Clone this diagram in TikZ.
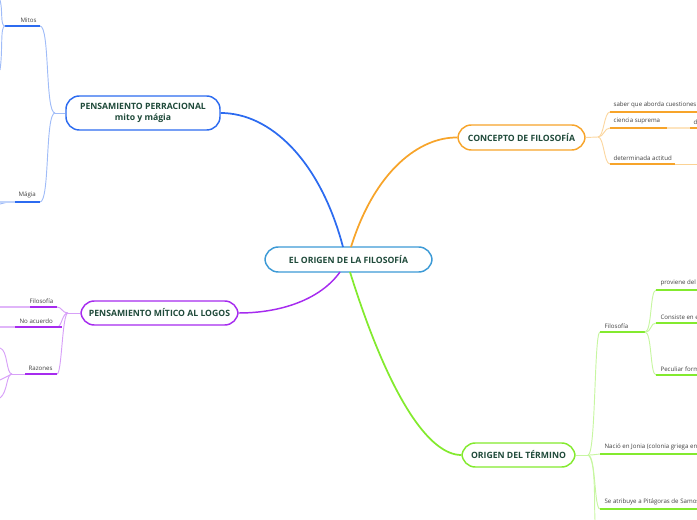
\documentclass[tikz,border=0pt]{standalone}
\usepackage{fontspec}
\setmainfont{Open Sans}
\definecolor{tgreen}{HTML}{1F4A3A}
\definecolor{cblue}{HTML}{2C6BF0}
\definecolor{corange}{HTML}{F7A42A}
\definecolor{cpurple}{HTML}{A62BEF}
\definecolor{cgreen}{HTML}{83EA2E}
\definecolor{ccenter}{HTML}{3C9AD6}
\begin{document}
\begin{tikzpicture}[x=0.75pt,y=-0.75pt,
 main/.style={draw=#1,line width=1.1pt,rounded corners=10pt,fill=white,font=\bfseries\fontsize{6.5}{8}\selectfont,text=tgreen,align=center,inner sep=0pt},
 lab/.style={font=\fontsize{4.6}{5.5}\selectfont,text=black!75,inner sep=1pt,anchor=south west,yshift=-1.5pt},
 br/.style={draw=#1!45,line width=0.7pt},
 ul/.style={draw=#1,line width=1.3pt}]
\useasboundingbox (0,0) rectangle (697,520);
% center
\node[main=ccenter,minimum width=167pt*0.75,minimum height=25pt*0.75] (c) at (348.5,259.5) {EL ORIGEN DE LA FILOSOFÍA};
\node[main=cblue,minimum width=154pt*0.75,minimum height=34pt*0.75] (b) at (143,113) {PENSAMIENTO PERRACIONAL\\mito y mágia};
\node[main=corange,minimum width=127pt*0.75,minimum height=25pt*0.75] (o) at (521.5,137.5) {CONCEPTO DE FILOSOFÍA};
\node[main=cpurple,minimum width=157pt*0.75,minimum height=24pt*0.75] (p) at (159.5,313) {PENSAMIENTO MÍTICO AL LOGOS};
\node[main=cgreen,minimum width=113pt*0.75,minimum height=24pt*0.75] (g) at (518.5,455) {ORIGEN DEL TÉRMINO};
% main connectors
\draw[cblue,line width=1.3pt] (343,247) .. controls (320,160) and (270,113) .. (b.east);
\draw[corange,line width=1.3pt] (351,247) .. controls (375,170) and (420,137) .. (o.west);
\draw[cpurple,line width=1.1pt] (340,272) .. controls (320,300) and (280,313) .. (p.east);
\draw[cgreen,line width=1.3pt] (350,272) .. controls (390,400) and (430,455) .. (g.west);
% blue subtree
\coordinate (bj) at (55,113);
\draw[br=cblue] (b.west) -- (bj);
\draw[br=cblue] (bj) .. controls (45,113) and (50,26) .. (40,26);
\draw[br=cblue] (bj) .. controls (45,113) and (50,202) .. (40,202);
\node[lab] (mitos) at (19,22) {Mitos};
\node[lab] (magia) at (17,198) {Mágia};
\draw[ul=cblue] (5,26) -- (40,26);
\draw[ul=cblue] (15,202) -- (40,202);
\draw[br=cblue] (5,26) .. controls (0,26) and (3,10) .. (0,0);
\draw[br=cblue] (5,26) .. controls (0,26) and (3,50) .. (0,70);
\draw[br=cblue] (8,202) -- (0,204);
\draw[draw=cblue!30,line width=1.3pt] (0,202) -- (15,202);
% orange subtree
\coordinate (oj) at (598,137);
\draw[br=corange] (o.east) -- (oj);
\foreach \y in {112,128,164}{\draw[br=corange] (oj) .. controls (604,137) and (604,\y) .. (610,\y);}
\draw[ul=corange] (610,112) -- (697,112);
\draw[ul=corange] (610,128) -- (667,128);
\draw[corange!30,line width=1.3pt] (667,128) -- (690,128);
\draw[ul=corange] (690,128) -- (697,128);
\draw[ul=corange] (610,164) -- (675,164);
\draw[corange!50,line width=0.7pt] (675,164) -- (697,164);
\node[lab] at (612,108) {saber que aborda cuestiones};
\node[lab] at (612,124) {ciencia suprema};
\node[lab] at (692,124) {d};
\node[lab] at (612,160) {determinada actitud};
% purple subtree
\coordinate (pj) at (68,313);
\draw[br=cpurple] (p.west) -- (pj);
\foreach \y in {307,327,374}{\draw[br=cpurple] (pj) .. controls (62,313) and (62,\y) .. (57,\y);}
\draw[ul=cpurple] (30,307) -- (57,307);
\draw[cpurple!35,line width=1.3pt] (0,307) -- (30,307);
\draw[ul=cpurple] (15,327) -- (62,327);
\draw[cpurple!35,line width=1.3pt] (0,327) -- (15,327);
\draw[ul=cpurple] (25,374) -- (57,374);
\draw[br=cpurple] (12,374) -- (25,374);
\draw[br=cpurple] (12,374) .. controls (6,374) and (8,350) .. (0,348);
\draw[br=cpurple] (12,374) .. controls (6,374) and (8,392) .. (0,398);
\draw[br=cpurple] (0,380) -- (12,374);
\node[lab] at (28,303) {Filosofía};
\node[lab] at (18,323) {No acuerdo};
\node[lab] at (27,370) {Razones};
% green subtree
\coordinate (gj) at (588,455);
\draw[br=cgreen] (g.east) -- (gj);
\draw[br=cgreen] (gj) .. controls (596,455) and (594,332) .. (600,332);
\draw[br=cgreen] (gj) .. controls (596,455) and (596,454) .. (600,454);
\draw[br=cgreen] (gj) .. controls (596,455) and (594,509) .. (600,509);
\draw[br=cgreen] (gj) .. controls (596,460) and (594,500) .. (595,520);
\draw[ul=cgreen] (600,332) -- (645,332);
\coordinate (fj) at (645,332);
\foreach \y in {290,323,375}{\draw[br=cgreen] (fj) .. controls (652,332) and (650,\y) .. (656,\y);\draw[ul=cgreen] (656,\y) -- (697,\y);}
\draw[ul=cgreen] (600,454) -- (697,454);
\draw[ul=cgreen] (600,509) -- (697,509);
\node[lab] at (603,328) {Filosofía};
\node[lab] at (659,286) {proviene del};
\node[lab] at (659,319) {Consiste en e};
\node[lab] at (659,371) {Peculiar form};
\node[lab] at (603,450) {Nació en Jonia (colonia griega en};
\node[lab] at (603,505) {Se atribuye a Pitágoras de Samos};
\end{tikzpicture}
\end{document}
